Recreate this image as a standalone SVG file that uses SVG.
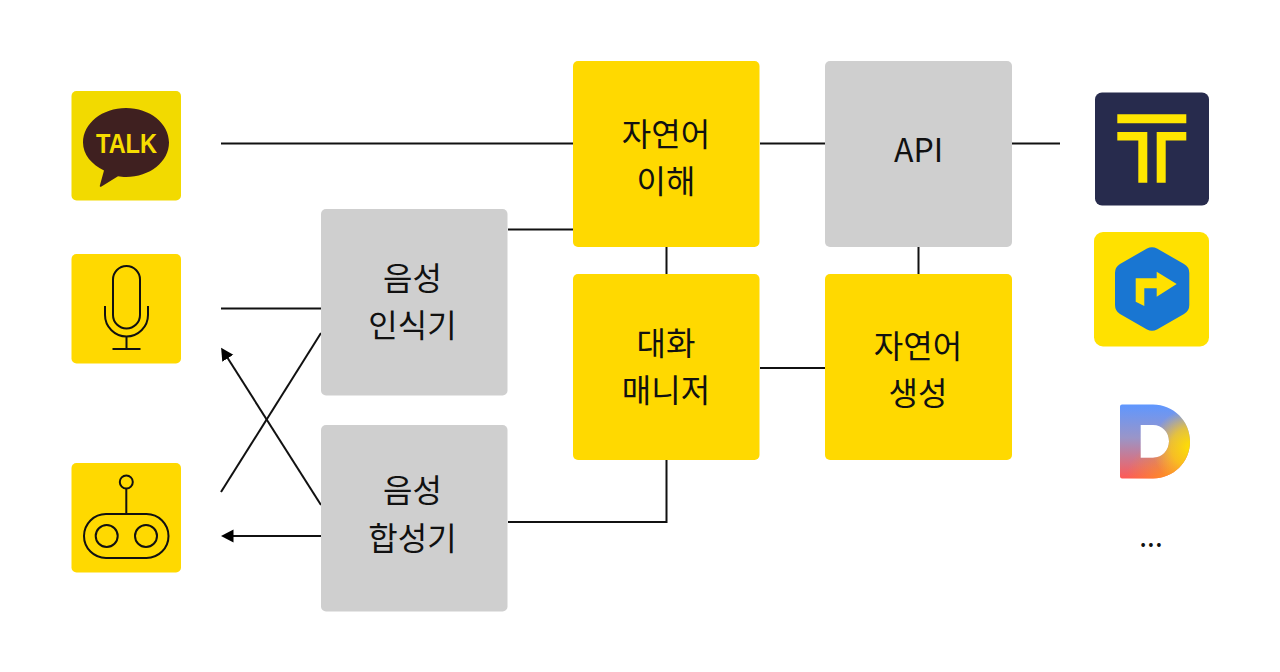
<svg xmlns="http://www.w3.org/2000/svg" width="1280" height="672" viewBox="0 0 1280 672">
<style>
.y{fill:#ffd900}.g{fill:#cfcfcf}
.t{font-family:"Noto Sans CJK KR","Noto Sans",sans-serif;font-size:32px;fill:#111;text-anchor:middle}
.c{fill:none;stroke:#111;stroke-width:2}
.i{fill:none;stroke:#111;stroke-width:2;stroke-linecap:butt}
</style>
<defs>
<marker id="arrow" markerUnits="userSpaceOnUse" markerWidth="14" markerHeight="14" refX="1.500" refY="6.500" orient="auto"><path d="M0 0 12.500 6.500 0 13Z" fill="#000"/></marker>
<linearGradient id="dg" x1="0" y1="0" x2="0" y2="1"><stop offset="0" stop-color="#5f97ff"/><stop offset=".45" stop-color="#9a95c8"/><stop offset="1" stop-color="#ff5a55"/></linearGradient>
<radialGradient id="do" gradientUnits="userSpaceOnUse" cx="1175" cy="485" r="50"><stop offset="0" stop-color="#ffa010"/><stop offset="1" stop-color="#ff9020" stop-opacity="0"/></radialGradient>
<radialGradient id="dy" gradientUnits="userSpaceOnUse" cx="1190" cy="447" r="38"><stop offset="0" stop-color="#ffe000"/><stop offset=".5" stop-color="#ffd010" stop-opacity=".75"/><stop offset="1" stop-color="#ffc030" stop-opacity="0"/></radialGradient>
<path id="dshape" fill-rule="evenodd" d="M1122 404.500H1153C1173.500 404.500 1190 421 1190 441.500S1173.500 478.500 1153 478.500H1122Q1120 478.500 1120 476.500V406.500Q1120 404.500 1122 404.500ZM1140.700 425V457.700H1153C1162 457.700 1169 450.500 1169 441.300S1162 425 1153 425Z"/>
</defs>
<rect width="1280" height="672" fill="#fff"/>
<g id="connectors">
<path class="c" d="M221 143.500H573"/>
<path class="c" d="M508 229.500H573"/>
<path class="c" d="M221 308.500H321"/>
<path class="c" d="M221 492 321 333"/>
<path class="c" d="M321 505 227 357" marker-end="url(#arrow)"/>
<path class="c" d="M321 536H232" marker-end="url(#arrow)"/>
<path class="c" d="M666.500 247V274"/>
<path class="c" d="M760 143.500H825"/>
<path class="c" d="M1012 143.500H1060"/>
<path class="c" d="M918.500 247V274"/>
<path class="c" d="M760 368H825"/>
<path class="c" d="M666.500 460V522H508"/>
</g>
<g id="kakaotalk">
<rect x="71.500" y="91" width="109.500" height="109.500" rx="5" fill="#f2da00"/>
<path d="M126 108C149.700 108 169 123.300 169 142.500S149.700 177 126 177C123 177 120.500 176.700 118 176.200L101.500 186.500C100 187.400 99.500 186.500 100 185L104 170.500C91.500 164.500 83 154.300 83 142.500 83 123.300 102.300 108 126 108Z" fill="#3f2020"/>
<text x="126.500" y="152.500" font-family="'Liberation Sans',Arial,sans-serif" font-weight="700" font-size="27" fill="#f6dd00" text-anchor="middle" textLength="61" lengthAdjust="spacingAndGlyphs">TALK</text>
</g>
<g id="mic">
<rect x="71.500" y="254" width="109.500" height="109.500" rx="5" class="y"/>
<rect class="i" x="113" y="266" width="27" height="62.500" rx="13.500"/>
<path class="i" d="M105 306V315C105 327 115 336.500 126.500 336.500S148 327 148 315V306M126.500 336.500V349M112.500 349H140.500"/>
</g>
<g id="robot">
<rect x="71.500" y="463" width="109.500" height="109.500" rx="5" class="y"/>
<circle class="i" cx="126.300" cy="482" r="6.500"/>
<path class="i" d="M126.300 488.500V514"/>
<rect class="i" x="84" y="514" width="84.500" height="44" rx="22"/>
<circle class="i" cx="106.700" cy="536" r="11"/>
<circle class="i" cx="146" cy="536" r="11"/>
</g>
<g id="stt">
<rect x="321" y="209" width="186.500" height="186.500" rx="5" class="g"/>
<text class="t" x="412.500" y="290">음성</text>
<text class="t" x="412.500" y="337">인식기</text>
</g>
<g id="tts">
<rect x="321" y="425" width="186.500" height="186.500" rx="5" class="g"/>
<text class="t" x="412.500" y="502">음성</text>
<text class="t" x="412.500" y="550">합성기</text>
</g>
<g id="nlu">
<rect x="573" y="61" width="186.500" height="186" rx="5" class="y"/>
<text class="t" x="666" y="146">자연어</text>
<text class="t" x="666" y="193">이해</text>
</g>
<g id="api">
<rect x="825" y="61" width="187" height="186" rx="5" class="g"/>
<text class="t" x="918.500" y="162">API</text>
</g>
<g id="dm">
<rect x="573" y="274" width="186.500" height="186" rx="5" class="y"/>
<text class="t" x="666" y="355">대화</text>
<text class="t" x="666" y="402">매니저</text>
</g>
<g id="nlg">
<rect x="825" y="274" width="187" height="186" rx="5" class="y"/>
<text class="t" x="918" y="358">자연어</text>
<text class="t" x="918" y="405">생성</text>
</g>
<g id="taxi">
<rect x="1095" y="92.500" width="114" height="113" rx="7" fill="#272b4d"/>
<path d="M1117.300 114.300H1186.300V123.300H1117.300ZM1117.300 132H1147.300V182.700H1138.300V140.500H1117.300ZM1186.300 132H1156.700V182.700H1165.700V140.500H1186.300Z" fill="#ffe600"/>
</g>
<g id="navi">
<rect x="1094" y="232" width="115" height="114.500" rx="9" fill="#ffe100"/>
<path d="M1147 248.500Q1152 246 1157 248.500L1184 264Q1189.300 267 1189.300 273V305Q1189.300 311 1184 314L1157 329.500Q1152 332 1147 329.500L1120 314Q1115 311 1115 305V273Q1115 267 1120 264Z" fill="#1976d2"/>
<path d="M1176.700 284 1156.700 271.700V278.300H1135.700V301.700L1144.300 306V288.300H1156.700V296.700Z" fill="#ffe100"/>
</g>
<g id="daum">
<use href="#dshape" fill="url(#dg)"/>
<use href="#dshape" fill="url(#do)"/>
<use href="#dshape" fill="url(#dy)"/>
</g>
<g id="more">
<text class="t" x="1151" y="547" style="font-size:28px">...</text>
</g>
</svg>
